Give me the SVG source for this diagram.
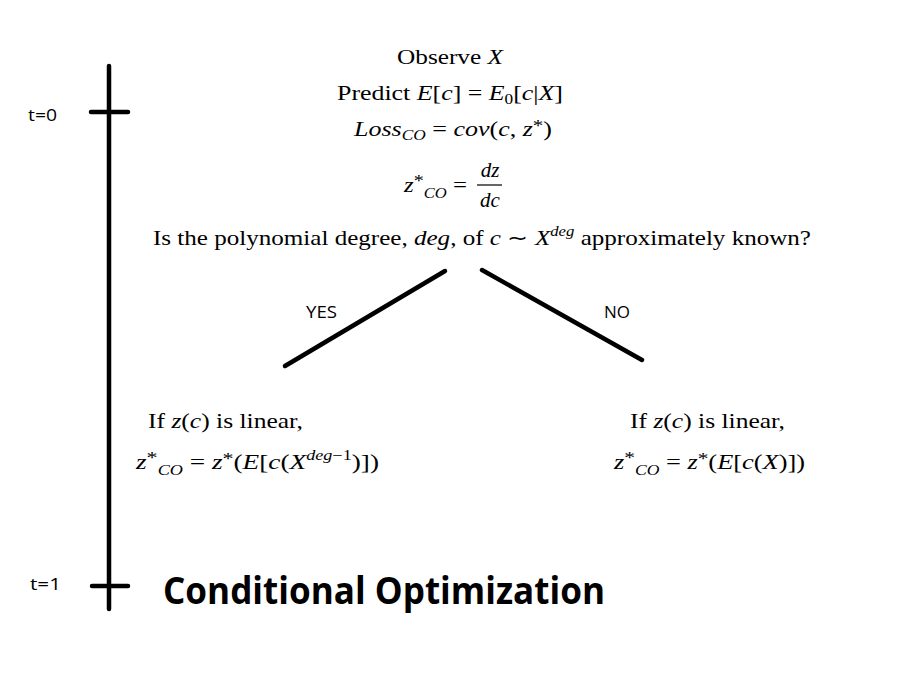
<svg xmlns="http://www.w3.org/2000/svg" width="900" height="700" viewBox="0 0 900 700">
<style>
.m{font-family:"Liberation Serif","Times New Roman",serif;font-size:21px;fill:#000}
.i{font-style:italic}
.s{font-size:14px}
.a{font-size:17px}
.lab{font-family:"Open Sans","Noto Sans","DejaVu Sans",sans-serif;font-size:16px;fill:#000}
.title{font-family:"Open Sans","Noto Sans","DejaVu Sans",sans-serif;font-size:38px;font-weight:bold;fill:#000}
.ln{stroke:#000;stroke-width:4.5;stroke-linecap:round;fill:none}
</style>
<rect width="900" height="700" fill="#fff"/>
<g id="timeline">
<line class="ln" x1="109" y1="66" x2="109" y2="609"/>
<line class="ln" x1="91" y1="112" x2="128" y2="112"/>
<line class="ln" x1="92" y1="586" x2="128" y2="586"/>
<text class="lab" x="28" y="121" textLength="29" lengthAdjust="spacingAndGlyphs">t=0</text>
<text class="lab" x="30" y="590" textLength="31" lengthAdjust="spacingAndGlyphs">t=1</text>
</g>
<g id="root">
<text class="m" x="397" y="64" textLength="106" lengthAdjust="spacingAndGlyphs">Observe <tspan class="i">X</tspan></text>
<text class="m" x="337" y="100" textLength="226" lengthAdjust="spacingAndGlyphs">Predict <tspan class="i">E</tspan>[<tspan class="i">c</tspan>] = <tspan class="i">E</tspan><tspan class="s" dy="4">0</tspan><tspan dy="-4">[</tspan><tspan class="i">c</tspan>|<tspan class="i">X</tspan>]</text>
<text class="m" x="354" y="136" textLength="198" lengthAdjust="spacingAndGlyphs"><tspan class="i">Loss</tspan><tspan class="s i" dy="4">CO</tspan><tspan dy="-4"> = </tspan><tspan class="i">cov</tspan>(<tspan class="i">c</tspan>, <tspan class="i">z</tspan><tspan class="a" dy="-5">*</tspan><tspan dy="5">)</tspan></text>
<text class="m" x="404" y="192" textLength="63" lengthAdjust="spacingAndGlyphs"><tspan class="i">z</tspan><tspan class="a" dy="-6">*</tspan><tspan class="s i" dy="12">CO</tspan><tspan dy="-6"> =</tspan></text>
<text class="m i" x="490" y="177" text-anchor="middle">dz</text>
<line x1="477" y1="185" x2="502" y2="185" stroke="#000" stroke-width="1.2"/>
<text class="m i" x="490" y="207" text-anchor="middle">dc</text>
<text class="m" x="153" y="245" textLength="658" lengthAdjust="spacingAndGlyphs">Is the polynomial degree, <tspan class="i">deg</tspan>, of <tspan class="i">c</tspan> ∼ <tspan class="i">X</tspan><tspan class="s i" dy="-9">deg</tspan><tspan dy="9"> approximately known?</tspan></text>
</g>
<g id="yes">
<text class="m" x="148" y="428" textLength="155" lengthAdjust="spacingAndGlyphs">If <tspan class="i">z</tspan>(<tspan class="i">c</tspan>) is linear,</text>
<text class="m" x="136" y="469" textLength="243" lengthAdjust="spacingAndGlyphs"><tspan class="i">z</tspan><tspan class="a" dy="-6">*</tspan><tspan class="s i" dy="12">CO</tspan><tspan dy="-6"> = </tspan><tspan class="i">z</tspan><tspan class="a" dy="-5">*</tspan><tspan dy="5">(</tspan><tspan class="i">E</tspan>[<tspan class="i">c</tspan>(<tspan class="i">X</tspan><tspan class="s" dy="-9"><tspan class="i">deg</tspan>−1</tspan><tspan dy="9">)])</tspan></text>
</g>
<g id="no">
<text class="m" x="630" y="428" textLength="155" lengthAdjust="spacingAndGlyphs">If <tspan class="i">z</tspan>(<tspan class="i">c</tspan>) is linear,</text>
<text class="m" x="614" y="469" textLength="191" lengthAdjust="spacingAndGlyphs"><tspan class="i">z</tspan><tspan class="a" dy="-6">*</tspan><tspan class="s i" dy="12">CO</tspan><tspan dy="-6"> = </tspan><tspan class="i">z</tspan><tspan class="a" dy="-5">*</tspan><tspan dy="5">(</tspan><tspan class="i">E</tspan>[<tspan class="i">c</tspan>(<tspan class="i">X</tspan>)])</text>
</g>
<g id="connectors">
<line class="ln" x1="445" y1="271" x2="285" y2="366"/>
<line class="ln" x1="482" y1="270" x2="642" y2="360"/>
<text class="lab" x="306" y="318" textLength="31" lengthAdjust="spacingAndGlyphs">YES</text>
<text class="lab" x="604" y="318" textLength="26" lengthAdjust="spacingAndGlyphs">NO</text>
</g>
<g id="title">
<text class="title" x="163" y="604" textLength="442" lengthAdjust="spacingAndGlyphs">Conditional Optimization</text>
</g>
</svg>
